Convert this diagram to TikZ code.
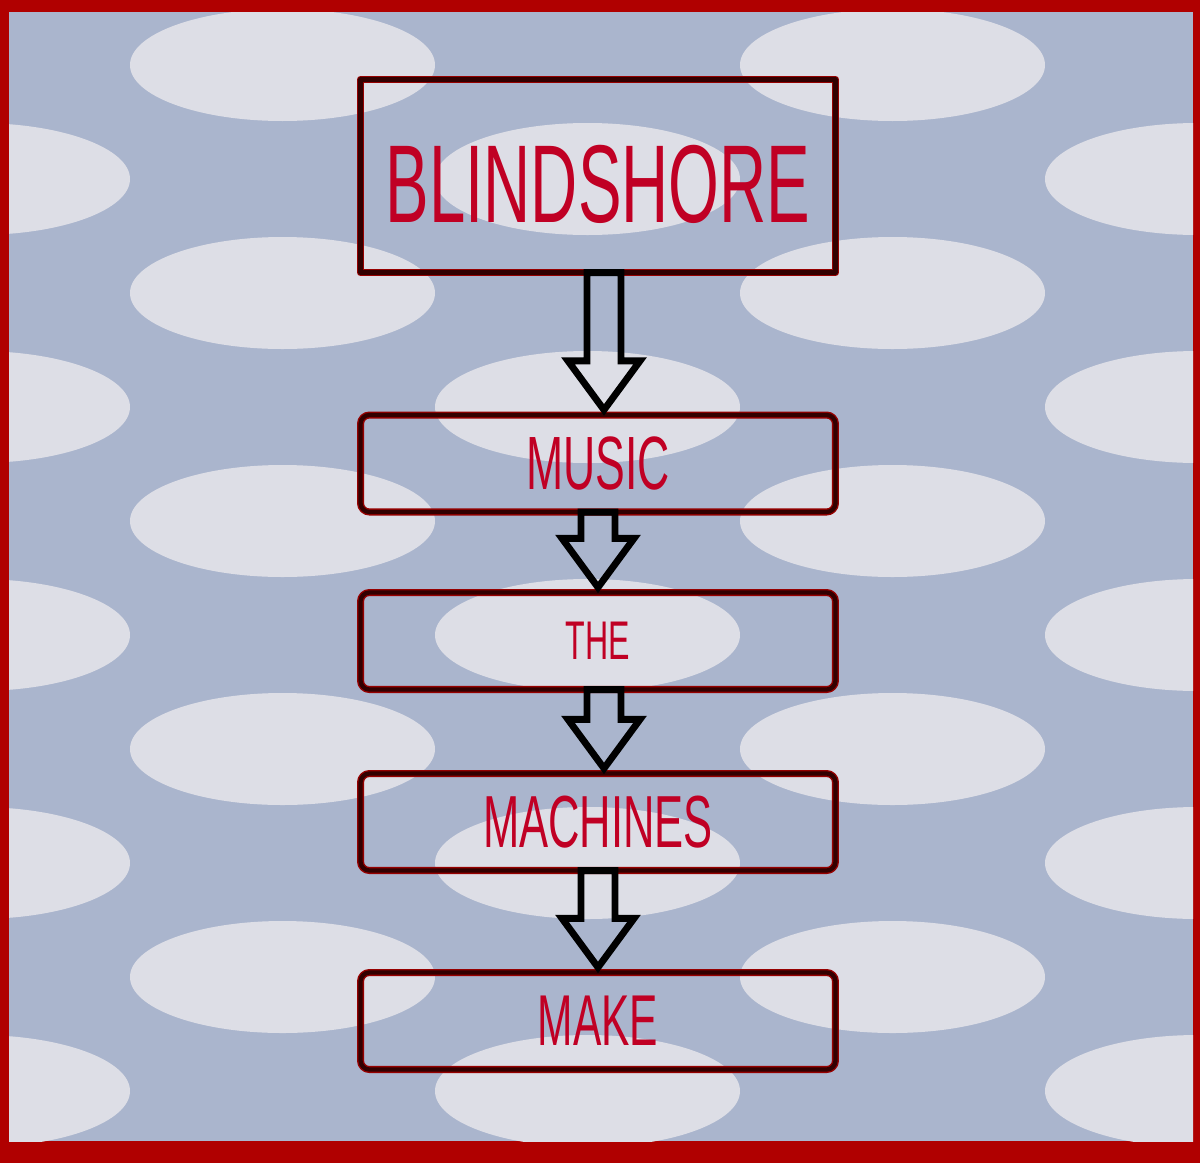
\documentclass[tikz,border=0pt]{standalone}
\usepackage{fontspec}
\newfontfamily\signfont[FakeStretch=0.59]{Liberation Sans}
\usetikzlibrary{calc}
\definecolor{frame}{RGB}{176,0,0}
\definecolor{sky}{RGB}{170,181,205}
\definecolor{spot}{RGB}{221,222,230}
\definecolor{boxline}{RGB}{50,0,0}
\definecolor{ink}{RGB}{192,0,36}

\begin{document}
\begin{tikzpicture}[
        x=0.02cm,
        y=-0.02cm,
        line join=round,
        line cap=round,
        word/.style={draw=boxline, line width=2.4pt, rounded corners=5pt,
            preaction={draw=frame!85!black, line width=4pt},
            minimum width=9.5cm, minimum height=1.94cm, inner sep=0pt, text=ink},
        hollow/.style={draw=black, line width=3.9pt, line join=miter}
    ]
        \useasboundingbox (0,0) rectangle (1200,1163);

        % red frame and blue ground
        \fill[frame] (0,0) rectangle (1200,1163);
        \fill[sky] (9,12) rectangle (1193,1141);

        % pale ellipses, rows shifted by half a period
        \begin{scope}
            \clip (9,12) rectangle (1193,1141);
            \foreach \k in {0,...,9} {
                \pgfmathsetmacro\yy{65+114*\k}
                \pgfmathsetmacro\xo{mod(\k,2)==1 ? -22.5 : 282.5}
                \foreach \n in {0,1,2} {
                    \fill[spot] (\xo+610*\n,\yy) ellipse [x radius=152.5, y radius=56];
                }
            }
        \end{scope}

        % boxes
        \node[word, sharp corners, minimum height=3.86cm, text height=1.85cm, text depth=0pt,
            font=\signfont\fontsize{63}{63}\selectfont] (bs) at (598,176) {BLINDSHORE};
        \node[word, font=\signfont\fontsize{43}{43}\selectfont] (music) at (598,463.5) {MUSIC};
        \node[word, font=\signfont\fontsize{31}{31}\selectfont] (the) at (598,641) {THE};
        \node[word, font=\signfont\fontsize{42}{42}\selectfont] (machines) at (598,822) {MACHINES};
        \node[word, font=\signfont\fontsize{41}{41}\selectfont] (make) at (598,1021) {MAKE};

        % hollow block arrows between the boxes
        \foreach \a/\b/\dx in {bs/music/6, music/the/0, the/machines/6, machines/make/0} {
            \draw[hollow]
                ($(\a.south)+(\dx-17,-2)$) -- ($(\b.north)+(\dx-17,-52)$)
                -- ($(\b.north)+(\dx-36,-52)$) -- ($(\b.north)+(\dx,-3)$)
                -- ($(\b.north)+(\dx+36,-52)$) -- ($(\b.north)+(\dx+17,-52)$)
                -- ($(\a.south)+(\dx+17,-2)$) -- cycle;
        }
    \end{tikzpicture}
\end{document}
